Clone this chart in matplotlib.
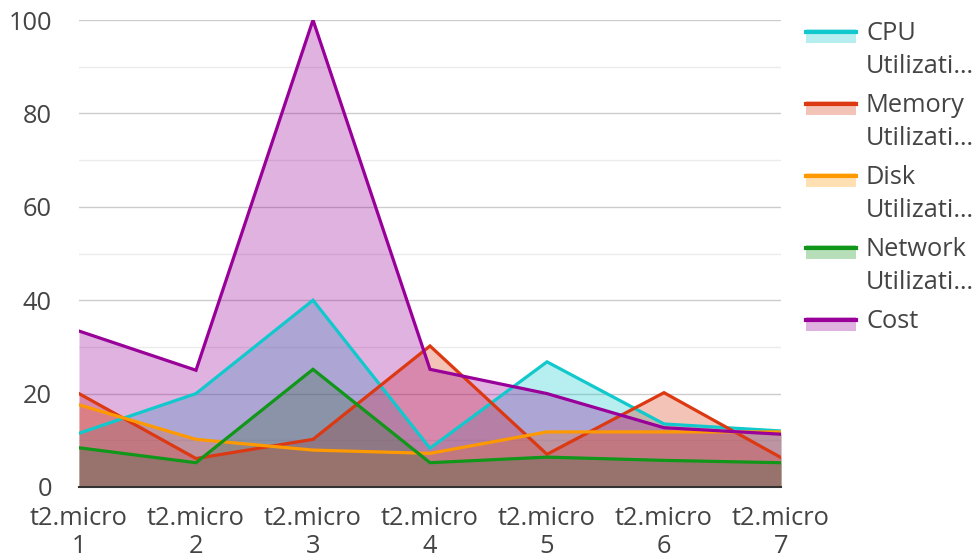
import matplotlib
matplotlib.use("Agg")
import matplotlib.pyplot as plt
from matplotlib.patches import Rectangle
from matplotlib.lines import Line2D

plt.rcParams['font.family'] = ['Open Sans', 'DejaVu Sans']

categories = ["t2.micro\n1", "t2.micro\n2", "t2.micro\n3", "t2.micro\n4",
              "t2.micro\n5", "t2.micro\n6", "t2.micro\n7"]
cpu = [11.5, 20.0, 40.0, 8.3, 26.8, 13.5, 12.0]
memory = [20.0, 6.1, 10.2, 30.2, 7.0, 20.2, 6.3]
disk = [17.6, 10.2, 7.9, 7.2, 11.8, 11.8, 11.8]
network = [8.4, 5.2, 25.2, 5.2, 6.4, 5.7, 5.2]
cost = [33.4, 25.0, 100.0, 25.2, 20.0, 12.7, 11.3]

series = [
    ("CPU\nUtilizati…", cpu, "#11C9CC"),
    ("Memory\nUtilizati…", memory, "#DC3912"),
    ("Disk\nUtilizati…", disk, "#FF9900"),
    ("Network\nUtilizati…", network, "#109618"),
    ("Cost", cost, "#990099"),
]

FS = 18.3
W, H = 973, 558
fig = plt.figure(figsize=(W / 100, H / 100), dpi=100)
left, right, top, bottom = 79, 781, 20, 487
ax = fig.add_axes([left / W, 1 - bottom / H, (right - left) / W, (bottom - top) / H])

x = list(range(len(categories)))

for _, vals, col in series:
    ax.fill_between(x, 0, vals, color=col, alpha=0.3, linewidth=0, zorder=2)
for _, vals, col in series:
    ax.plot(x, vals, color=col, linewidth=2.3, zorder=3, solid_joinstyle='miter')

ax.set_xlim(0, len(categories) - 1)
ax.set_ylim(0, 100)

# gridlines: major every 20, minor every 10
for v in range(10, 100, 20):
    ax.axhline(v, color="#ebebeb", linewidth=1, zorder=1)
for v in range(20, 101, 20):
    ax.axhline(v, color="#cccccc", linewidth=1, zorder=1)
ax.axhline(0, color="#333333", linewidth=1.5, zorder=4, clip_on=False)

for s in ax.spines.values():
    s.set_visible(False)

ax.set_yticks(range(0, 101, 20))
ax.set_xticks(x)
ax.set_xticklabels(categories, linespacing=1.15)
ax.tick_params(axis='both', length=0, labelsize=FS, labelcolor="#444444")
ax.tick_params(axis='y', pad=19.5)
ax.tick_params(axis='x', pad=14)
for lbl in ax.get_yticklabels():
    lbl.set_horizontalalignment('right')

# legend drawn on the right
y0 = 31
for i, (name, vals, col) in enumerate(series):
    yc = y0 + i * 72
    fig.patches.append(Rectangle((806 / W, 1 - (yc + 12) / H), 50 / W, 14 / H,
                                 transform=fig.transFigure, facecolor=col, alpha=0.3,
                                 edgecolor='none'))
    fig.lines.append(Line2D([806 / W, 856 / W], [1 - (yc + 1) / H] * 2,
                            transform=fig.transFigure, color=col, linewidth=3))
    fig.text(866 / W, 1 - (yc - 10) / H, name, fontsize=FS, color="#444444",
             va='top', ha='left', linespacing=1.42)

fig.savefig("out.png", dpi=100)
